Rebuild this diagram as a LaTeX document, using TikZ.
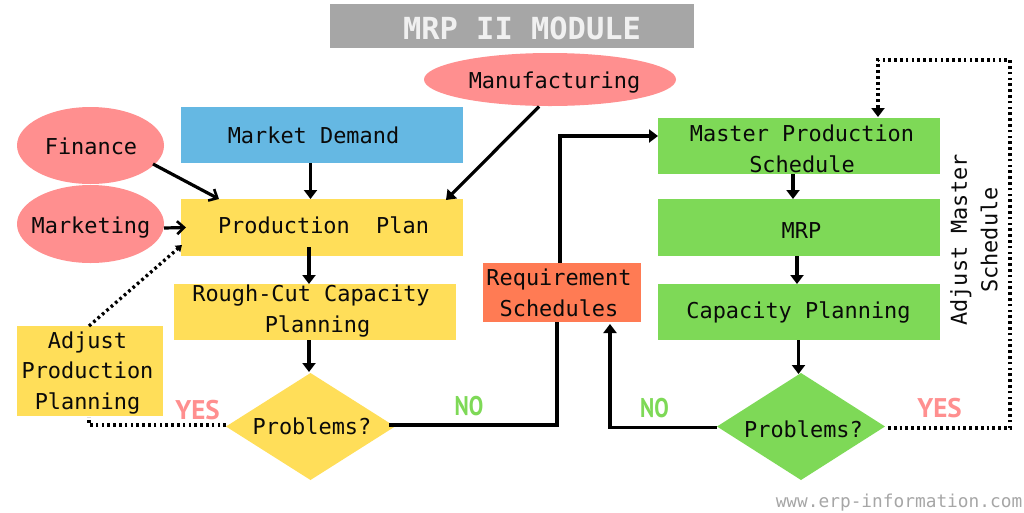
\documentclass[tikz,border=0pt]{standalone}
\usepackage{fontspec}
\setmainfont{DejaVu Sans Mono}
\newfontfamily\lblfont{PT Sans}
\usetikzlibrary{shapes.geometric,arrows.meta,calc}
\definecolor{pinkc}{HTML}{FF8F8F}
\definecolor{bluec}{HTML}{65B8E3}
\definecolor{yellowc}{HTML}{FFDE59}
\definecolor{greenc}{HTML}{7ED957}
\definecolor{orangec}{HTML}{FF7B54}
\definecolor{grayc}{HTML}{A6A6A6}
\definecolor{inkc}{HTML}{0A0A0A}
\tikzset{
  x=1pt,y=-1pt,
  shapebase/.style={inner sep=0pt,outer sep=0pt,draw=none,fill=#1},
  rbox/.style={shapebase=#1,rectangle},
  oval/.style={shapebase=pinkc,ellipse},
  dia/.style={shapebase=#1,diamond},
  txt/.style={inner sep=0pt,outer sep=0pt,align=center,text=inkc,font=\fontsize{21.9}{30.5}\selectfont},
  titletxt/.style={inner sep=0pt,text=white!94!black,font=\fontsize{30.4}{34}\selectfont\bfseries},
  mark text/.style={inner sep=0pt,text=#1,font=\lblfont\fontsize{27}{30}\selectfont\bfseries},
  wm/.style={inner sep=0pt,text=grayc,font=\fontsize{17.8}{20}\selectfont},
  conn/.style={line width=3.2pt,draw=black,line join=miter},
  flow/.style={conn,-{Triangle[width=13pt,length=9pt]}},
  barb/.style={conn,-{Straight Barb[width=13pt,length=7pt,line width=2.6pt]}},
  dots/.style={line width=3.3pt,draw=black,dash pattern=on 2.7pt off 3.1pt},
}
\begin{document}
\begin{tikzpicture}
\useasboundingbox (0,0) rectangle (1024,512);
% shapes
\node[rbox=grayc,minimum width=364pt,minimum height=44pt] (title) at (512,26) {};
\node[oval,minimum width=252pt,minimum height=53pt] (manu) at (550,79.5) {};
\node[oval,minimum width=147pt,minimum height=77pt] (fin) at (90.5,145.5) {};
\node[oval,minimum width=147pt,minimum height=78pt] (mkt) at (90.5,224) {};
\node[rbox=bluec,minimum width=282pt,minimum height=56pt] (demand) at (322,135) {};
\node[rbox=yellowc,minimum width=282pt,minimum height=57pt] (plan) at (322,227.5) {};
\node[rbox=yellowc,minimum width=282pt,minimum height=56pt] (rough) at (315,312) {};
\node[rbox=yellowc,minimum width=146pt,minimum height=90pt] (adjust) at (90,371) {};
\node[dia=yellowc,minimum width=169pt,minimum height=107pt] (probl) at (310.5,426.5) {};
\node[rbox=orangec,minimum width=158pt,minimum height=59pt] (req) at (562,292.5) {};
\node[rbox=greenc,minimum width=282pt,minimum height=56pt] (mps) at (799,146) {};
\node[rbox=greenc,minimum width=282pt,minimum height=57pt] (mrp) at (799,227.5) {};
\node[rbox=greenc,minimum width=282pt,minimum height=56pt] (cap) at (799,312) {};
\node[dia=greenc,minimum width=168pt,minimum height=107pt] (probr) at (801,426.5) {};
% texts
\node[titletxt] (ttitle) at (522,28) {MRP II MODULE};
\node[txt] (tmanu) at (554.5,83) {Manufacturing};
\node[txt] (tfin) at (91,146) {Finance};
\node[txt] (tmkt) at (91,227.5) {Marketing};
\node[txt] (tdemand) at (313.5,135) {Market Demand};
\node[txt] (tplan) at (323.5,225) {Production\ \ Plan};
\node[txt] (trough) at (317.5,311) {Rough-Cut Capacity\hspace*{13pt}\\Planning};
\node[txt] (tadjust) at (87.5,373) {Adjust\\Production\\Planning};
\node[txt] (tprobl) at (312,426) {Problems?};
\node[txt] (treq) at (559,293) {Requirement\\Schedules};
\node[txt] (tmps) at (802,149) {Master Production\\Schedule};
\node[txt] (tmrp) at (801.5,231) {MRP};
\node[txt] (tcap) at (798.5,312) {Capacity Planning};
\node[txt] (tprobr) at (803.5,429) {Problems?};
\node[txt,rotate=90] (tms) at (974,240) {Adjust Master\\Schedule};
\node[mark text=pinkc] (yl) at (197.5,410) {YES};
\node[mark text=greenc] (nl) at (469,406) {\scalebox{.8}[1]{NO}};
\node[mark text=greenc] (nr) at (654.5,408) {\scalebox{.8}[1]{NO}};
\node[mark text=pinkc] (yr) at (939.5,408) {YES};
\node[wm] (wmark) at (899,502.5) {www.erp-information.com};
% connectors
\draw[barb] ([shift={(62.5,18.5)}]fin.center) -- ([shift={(38,0)}]plan.north west);
\draw[flow] ([xshift=-11.5pt]demand.south) -- ([xshift=-11.5pt]plan.north);
\draw[flow] ([shift={(-11,27)}]manu.center) -- ([shift={(-17,1)}]plan.north east);
\draw[barb] ([shift={(0,4)}]mkt.east) -- ([shift={(5,0)}]plan.west);
\draw[dots,-{Triangle[width=8pt,length=6pt]}] ([xshift=-1pt]adjust.north) -- ([shift={(1,-11)}]plan.south west);
\draw[flow] ([shift={(-13,-9)}]plan.south) -- ([xshift=-6pt]rough.north);
\draw[flow] ([xshift=-6pt]rough.south) -- ([shift={(-1.5,-1)}]probl.north);
\draw[conn] ([shift={(-6,-1.5)}]probl.east) -| ([xshift=-5pt]req.south);
\draw[flow] ([xshift=-2pt]req.north) |- ([yshift=10pt]mps.west);
\draw[flow] ([xshift=-6pt]mps.south) -- ([xshift=-6pt]mrp.north);
\draw[flow] ([xshift=-2pt]mrp.south) -- ([xshift=-2pt]cap.north);
\draw[flow] ([xshift=-0.5pt]cap.south) -- ([shift={(-2.5,1)}]probr.north);
\draw[conn,-{Triangle[width=13pt,length=9pt]}] ([yshift=-1pt]probr.west) -| ([xshift=48pt,yshift=-2pt]req.south);
\coordinate (upr) at (1010,60);
\draw[dots,-{Triangle[width=13pt,length=9pt]}] ([shift={(3,1.5)}]probr.east) -| (upr) -| ([xshift=79pt,yshift=1pt]mps.north);
\draw[dots] ([yshift=1.5pt]probl.west) -| ([shift={(-1,1)}]adjust.south);
\end{tikzpicture}
\end{document}
